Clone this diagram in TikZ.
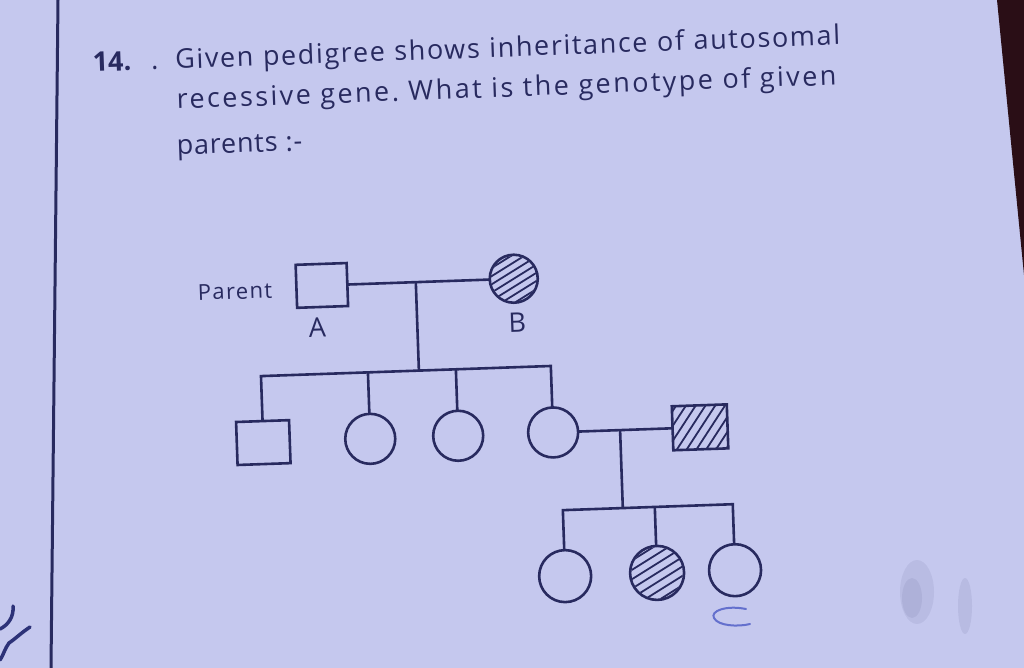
\documentclass[tikz,border=0pt]{standalone}
\usepackage{fontspec}
\setmainfont{Open Sans}
\definecolor{paper}{RGB}{197,200,238}
\definecolor{ink}{RGB}{40,42,95}
\definecolor{pen}{RGB}{100,112,205}
\definecolor{pen2}{RGB}{45,50,120}
\definecolor{edge}{RGB}{42,14,22}
\newcommand{\qword}[4]{\node[#1] (#2) at (#3.base east) {\hspace{9.5pt}#4};}
\begin{document}
\begin{tikzpicture}[x=1pt,y=-1pt,
  every node/.style={inner sep=0pt,outer sep=0pt},
  line/.style={draw=ink,line width=2.6pt,line join=miter},
  male/.style={rectangle,draw=ink,line width=2.6pt,minimum width=51pt,minimum height=43pt,transform shape},
  female/.style={circle,draw=ink,line width=2.6pt,minimum size=50pt},
  hatch/.style={draw=ink,line width=1.8pt},
  qtext/.style={text=ink,anchor=base west,rotate=2.1},
  qone/.style={qtext,font=\fontsize{27}{32}\selectfont\addfontfeature{LetterSpace=6}},
  qtwo/.style={qtext,font=\fontsize{27}{32}\selectfont\addfontfeature{LetterSpace=9}},
  qthree/.style={qtext,font=\fontsize{27}{32}\selectfont\addfontfeature{LetterSpace=3}},
  lab/.style={text=ink,font=\fontsize{27}{30}\selectfont,transform shape},
  plab/.style={text=ink,font=\fontsize{22}{24}\selectfont\addfontfeature{LetterSpace=6},transform shape}]
\fill[paper] (0,0) rectangle (1024,668);
\useasboundingbox (0,0) rectangle (1024,668);
% paper edge and margin
\fill[edge] (997,0) -- (1024,0) -- (1024,275) -- cycle;
\draw[ink,line width=3pt] (58,0) -- (51,668);
% question text, word by word along a slightly tilted baseline
\node[qtext,font=\fontsize{27}{32}\selectfont] (l1a) at (93,72) {\textbf{14.}\hspace{20pt}.};
\node[qone] (w1) at (l1a.base east) {\hspace{17pt}Given};
\qword{qone}{w2}{w1}{pedigree}
\qword{qone}{w3}{w2}{shows}
\qword{qone}{w4}{w3}{inheritance}
\qword{qone}{w5}{w4}{of}
\qword{qone}{w6}{w5}{autosomal}
\node[qtwo] (v1) at (177,109) {recessive};
\qword{qtwo}{v2}{v1}{gene.}
\qword{qtwo}{v3}{v2}{What}
\qword{qtwo}{v4}{v3}{is}
\qword{qtwo}{v5}{v4}{the}
\qword{qtwo}{v6}{v5}{genotype}
\qword{qtwo}{v7}{v6}{of}
\qword{qtwo}{v8}{v7}{given}
\node[qthree] (l3) at (177,155) {parents :-};
% pedigree
\begin{scope}[rotate around={2:(480,430)}]
  % hatching
  \begin{scope}[shift={(519,280)}]
    \clip (0,0) circle (22.8);
    \foreach \k in {-5,...,5} \draw[hatch] (-40,\k*8+23) -- ++(80,-46);
  \end{scope}
  \begin{scope}[shift={(700,435)}]
    \clip (-27.5,-22) rectangle (27.5,22);
    \foreach \k in {-8,...,8} \draw[hatch] (\k*10-20,30) -- ++(40,-57);
  \end{scope}
  \begin{scope}[shift={(652,579)}]
    \clip (0,0) circle (25.8);
    \foreach \k in {-6,...,6} \draw[hatch] (-45,\k*9.2+26) -- ++(90,-52);
  \end{scope}
  % generation I
  \node[male] (A) at (327,280) {};
  \node[female,minimum size=48pt] (B) at (519,280) {};
  \node[lab] (Alab) at (321,322) {A};
  \node[lab] (Blab) at (521,324) {B};
  \node[plab] (par) at (240,283) {Parent};
  \coordinate (m1) at (421,280);
  \coordinate (s1) at (421,368.5);
  \coordinate (t1) at (263,368.5);
  \coordinate (t2) at (370,368.5);
  \coordinate (t3) at (458,368.5);
  \coordinate (t4) at (553,368.5);
  % generation II
  \node[male,minimum width=53pt] (c1) at (263,435) {};
  \node[female] (c2) at (370,435) {};
  \node[female] (c3) at (458,435) {};
  \node[female] (c4) at (553,435) {};
  \node[male,minimum width=55pt,minimum height=44pt] (H) at (700,435) {};
  \coordinate (m2) at (620,435);
  \coordinate (s2) at (620,513);
  \coordinate (t5) at (560,513);
  \coordinate (t6) at (652,513);
  \coordinate (t7) at (730,513);
  % generation III
  \node[female,minimum size=52pt] (d1) at (560,579) {};
  \node[female,minimum size=54pt] (d2) at (652,579) {};
  \node[female,minimum size=52pt] (d3) at (730,579) {};
  % connectors
  \draw[line] (A) -- (B);
  \draw[line] (m1) -- (s1);
  \draw[line] (c1) -- (t1) -- (t4) -- (c4);
  \draw[line] (t2) -- (c2);
  \draw[line] (t3) -- (c3);
  \draw[line] (c4) -- (H);
  \draw[line] (m2) -- (s2);
  \draw[line] (d1) -- (t5) -- (t7) -- (d3);
  \draw[line] (t6) -- (d2);
\end{scope}
% pen marks
\draw[pen,line width=2pt,line cap=round] (746,609) .. controls (726,605) and (710,611) .. (714,618) .. controls (718,626) and (738,627) .. (750,624);
\draw[pen2,line width=3.5pt,line cap=round] (13,606) .. controls (14,617) and (8,625) .. (0,629);
\draw[pen2,line width=3.5pt,line cap=round] (30,627) .. controls (21,633) and (15,639) .. (9,643) .. controls (5,648) and (3,656) .. (0,660);
% smudges
\fill[ink,opacity=0.07] (917,592) ellipse (17 and 32);
\fill[ink,opacity=0.07] (912,598) ellipse (10 and 20);
\fill[ink,opacity=0.08] (965,606) ellipse (7 and 28);
\end{tikzpicture}
\end{document}
